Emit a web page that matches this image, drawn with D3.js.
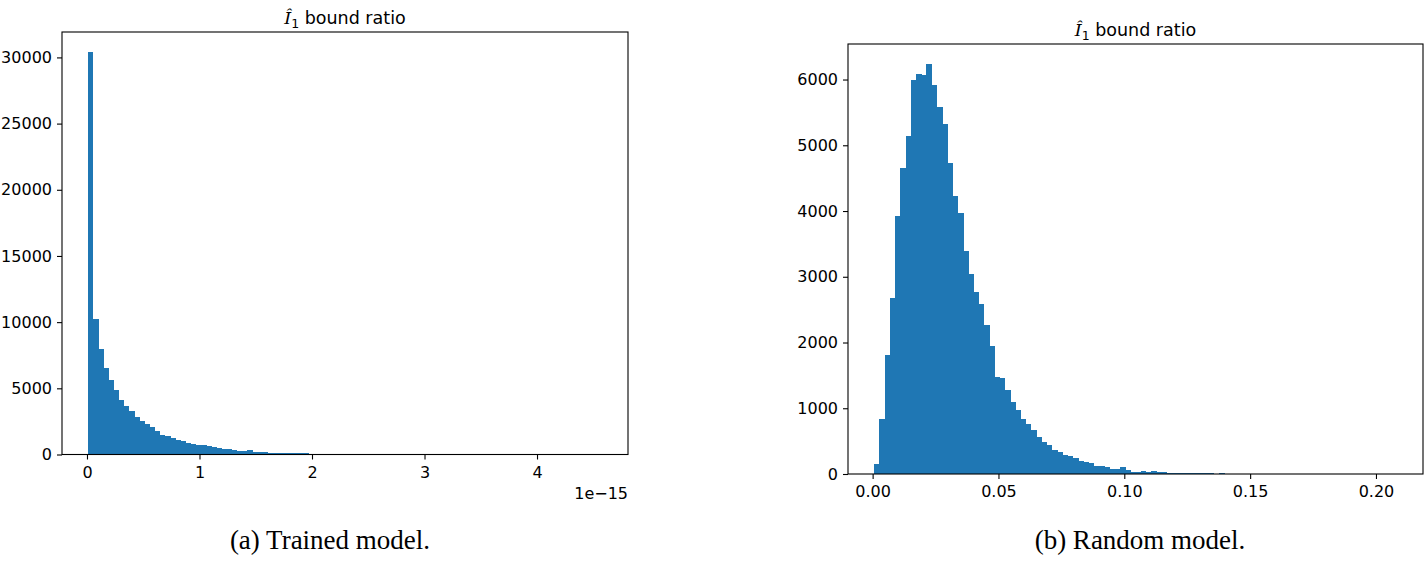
<!DOCTYPE html>
<html>
<head>
<meta charset="utf-8">
<script src="https://cdn.jsdelivr.net/npm/d3@7"></script>
<style>
  body { margin: 0; background: #fff; }
  svg text { fill: #000; }
</style>
</head>
<body>
<svg id="fig" width="1427" height="565"></svg>
<script>
// trained model: counts per bin, bins spread evenly over leftRange (x in units of 1e-15)
const leftCounts = [
  30400, 10200, 7950, 6570, 5620, 4850, 4100, 3650, 3270, 2870,
  2550, 2270, 2050, 1780, 1510, 1370, 1260, 1130, 1020, 880,
  780, 750, 700, 670, 540, 480, 420, 380, 340, 260,
  230, 310, 210, 180, 160, 150, 140, 115, 110, 100,
  90, 85, 80, 65, 60, 58, 55, 50, 40, 38,
  35, 32, 28, 25, 22, 20, 18, 16, 14, 12,
  11, 10, 9, 9, 8, 7, 7, 6, 6, 5,
  5, 4, 4, 4, 3, 3, 3, 3, 2, 2,
  2, 2, 2, 1, 1, 1, 1, 2, 1, 1,
  1, 0, 1, 1, 0, 1, 0, 0, 1, 1
];
const leftRange = [0.0066, 4.58];
const leftXTicks = [0, 1, 2, 3, 4];
const leftYTicks = [0, 5000, 10000, 15000, 20000, 25000, 30000];

// random model
const rightCounts = [
  148, 834, 1811, 2680, 3926, 4653, 5146, 5990, 6082, 6072,
  6229, 5924, 5588, 5324, 4734, 4230, 3977, 3392, 3036, 2766,
  2583, 2262, 1942, 1469, 1465, 1281, 1094, 981, 834, 767,
  666, 569, 488, 442, 366, 336, 290, 270, 240, 195,
  178, 172, 127, 122, 102, 71, 71, 102, 66, 36,
  36, 46, 36, 41, 25, 30, 20, 20, 15, 15,
  12, 10, 12, 8, 10, 6, 8, 5, 3, 2,
  2, 1, 1, 1, 0, 1, 0, 0, 1, 0,
  0, 0, 0, 0, 0, 0, 0, 0, 0, 0,
  0, 0, 0, 0, 0, 0, 0, 0, 0, 1
];
const rightRange = [0.0006, 0.2083];
const rightXTicks = [0, 0.05, 0.10, 0.15, 0.20];
const rightYTicks = [0, 1000, 2000, 3000, 4000, 5000, 6000];

const svg = d3.select('#fig');
const BAR = '#1f77b4';

const drawHist = (opts) => {
  const { box, counts, range, xTicks, yTicks, xFmt, caption, offsetText } = opts;
  const n = counts.length;
  const step = (range[1] - range[0]) / n;
  const bins = counts.map((c, i) => ({ x0: range[0] + i * step, x1: range[0] + (i + 1) * step, c }));

  // matplotlib-like 5% margins
  const span = range[1] - range[0];
  const x = d3.scaleLinear()
    .domain([range[0] - 0.05 * span, range[1] + 0.05 * span])
    .range([box.x, box.x + box.w]);
  const y = d3.scaleLinear()
    .domain([0, d3.max(counts) * 1.05])
    .range([box.y + box.h, box.y]);

  const g = svg.append('g');

  g.append('g')
    .attr('shape-rendering', 'crispEdges')
    .selectAll('rect')
    .data(bins)
    .enter()
    .append('rect')
    .attr('x', d => x(d.x0))
    .attr('width', d => x(d.x1) - x(d.x0) + 0.5)
    .attr('y', d => y(d.c))
    .attr('height', d => y(0) - y(d.c))
    .attr('fill', BAR);

  const xAxis = g.append('g')
    .attr('transform', 'translate(0,' + (box.y + box.h) + ')')
    .call(d3.axisBottom(x).tickValues(xTicks).tickFormat(xFmt).tickSize(5).tickSizeOuter(0).tickPadding(7));
  const yAxis = g.append('g')
    .attr('transform', 'translate(' + box.x + ',0)')
    .call(d3.axisLeft(y).tickValues(yTicks).tickFormat(d3.format('d')).tickSize(5).tickSizeOuter(0).tickPadding(5));

  [xAxis, yAxis].forEach(a => {
    a.select('.domain').remove();
    a.selectAll('line').attr('stroke', '#000').attr('stroke-width', 1.1);
    a.selectAll('text')
      .attr('font-family', 'DejaVu Sans')
      .attr('font-size', 16)
      .attr('fill', '#000');
  });

  // spines
  g.append('rect')
    .attr('x', box.x)
    .attr('y', box.y)
    .attr('width', box.w)
    .attr('height', box.h)
    .attr('fill', 'none')
    .attr('stroke', '#000')
    .attr('stroke-width', 1.1);

  // title
  const t = g.append('text')
    .attr('x', box.x + box.w / 2)
    .attr('y', box.y - 8.5)
    .attr('text-anchor', 'middle')
    .attr('font-family', 'DejaVu Sans')
    .attr('font-size', 17.5);
  t.append('tspan')
    .attr('font-family', 'DejaVu Serif')
    .attr('font-style', 'italic')
    .text('\u00CE');
  t.append('tspan')
    .attr('font-size', 12.5)
    .attr('dy', 4)
    .text('1');
  t.append('tspan')
    .attr('dy', -4)
    .text(' bound ratio');

  if (offsetText) {
    g.append('text')
      .attr('x', box.x + box.w)
      .attr('y', box.y + box.h + 44)
      .attr('text-anchor', 'end')
      .attr('font-family', 'DejaVu Sans')
      .attr('font-size', 16)
      .text(offsetText);
  }

  svg.append('text')
    .attr('x', caption.x)
    .attr('y', 549)
    .attr('text-anchor', 'middle')
    .attr('font-family', 'Liberation Serif')
    .attr('font-size', 27)
    .text(caption.text);
};

drawHist({
  box: { x: 62, y: 32, w: 566, h: 422.5 },
  counts: leftCounts,
  range: leftRange,
  xTicks: leftXTicks,
  yTicks: leftYTicks,
  xFmt: d3.format('d'),
  offsetText: '1e\u221215',
  caption: { x: 330, text: '(a) Trained model.' }
});

drawHist({
  box: { x: 848, y: 44, w: 575, h: 430 },
  counts: rightCounts,
  range: rightRange,
  xTicks: rightXTicks,
  yTicks: rightYTicks,
  xFmt: d3.format('.2f'),
  caption: { x: 1140, text: '(b) Random model.' }
});
</script>
</body>
</html>
